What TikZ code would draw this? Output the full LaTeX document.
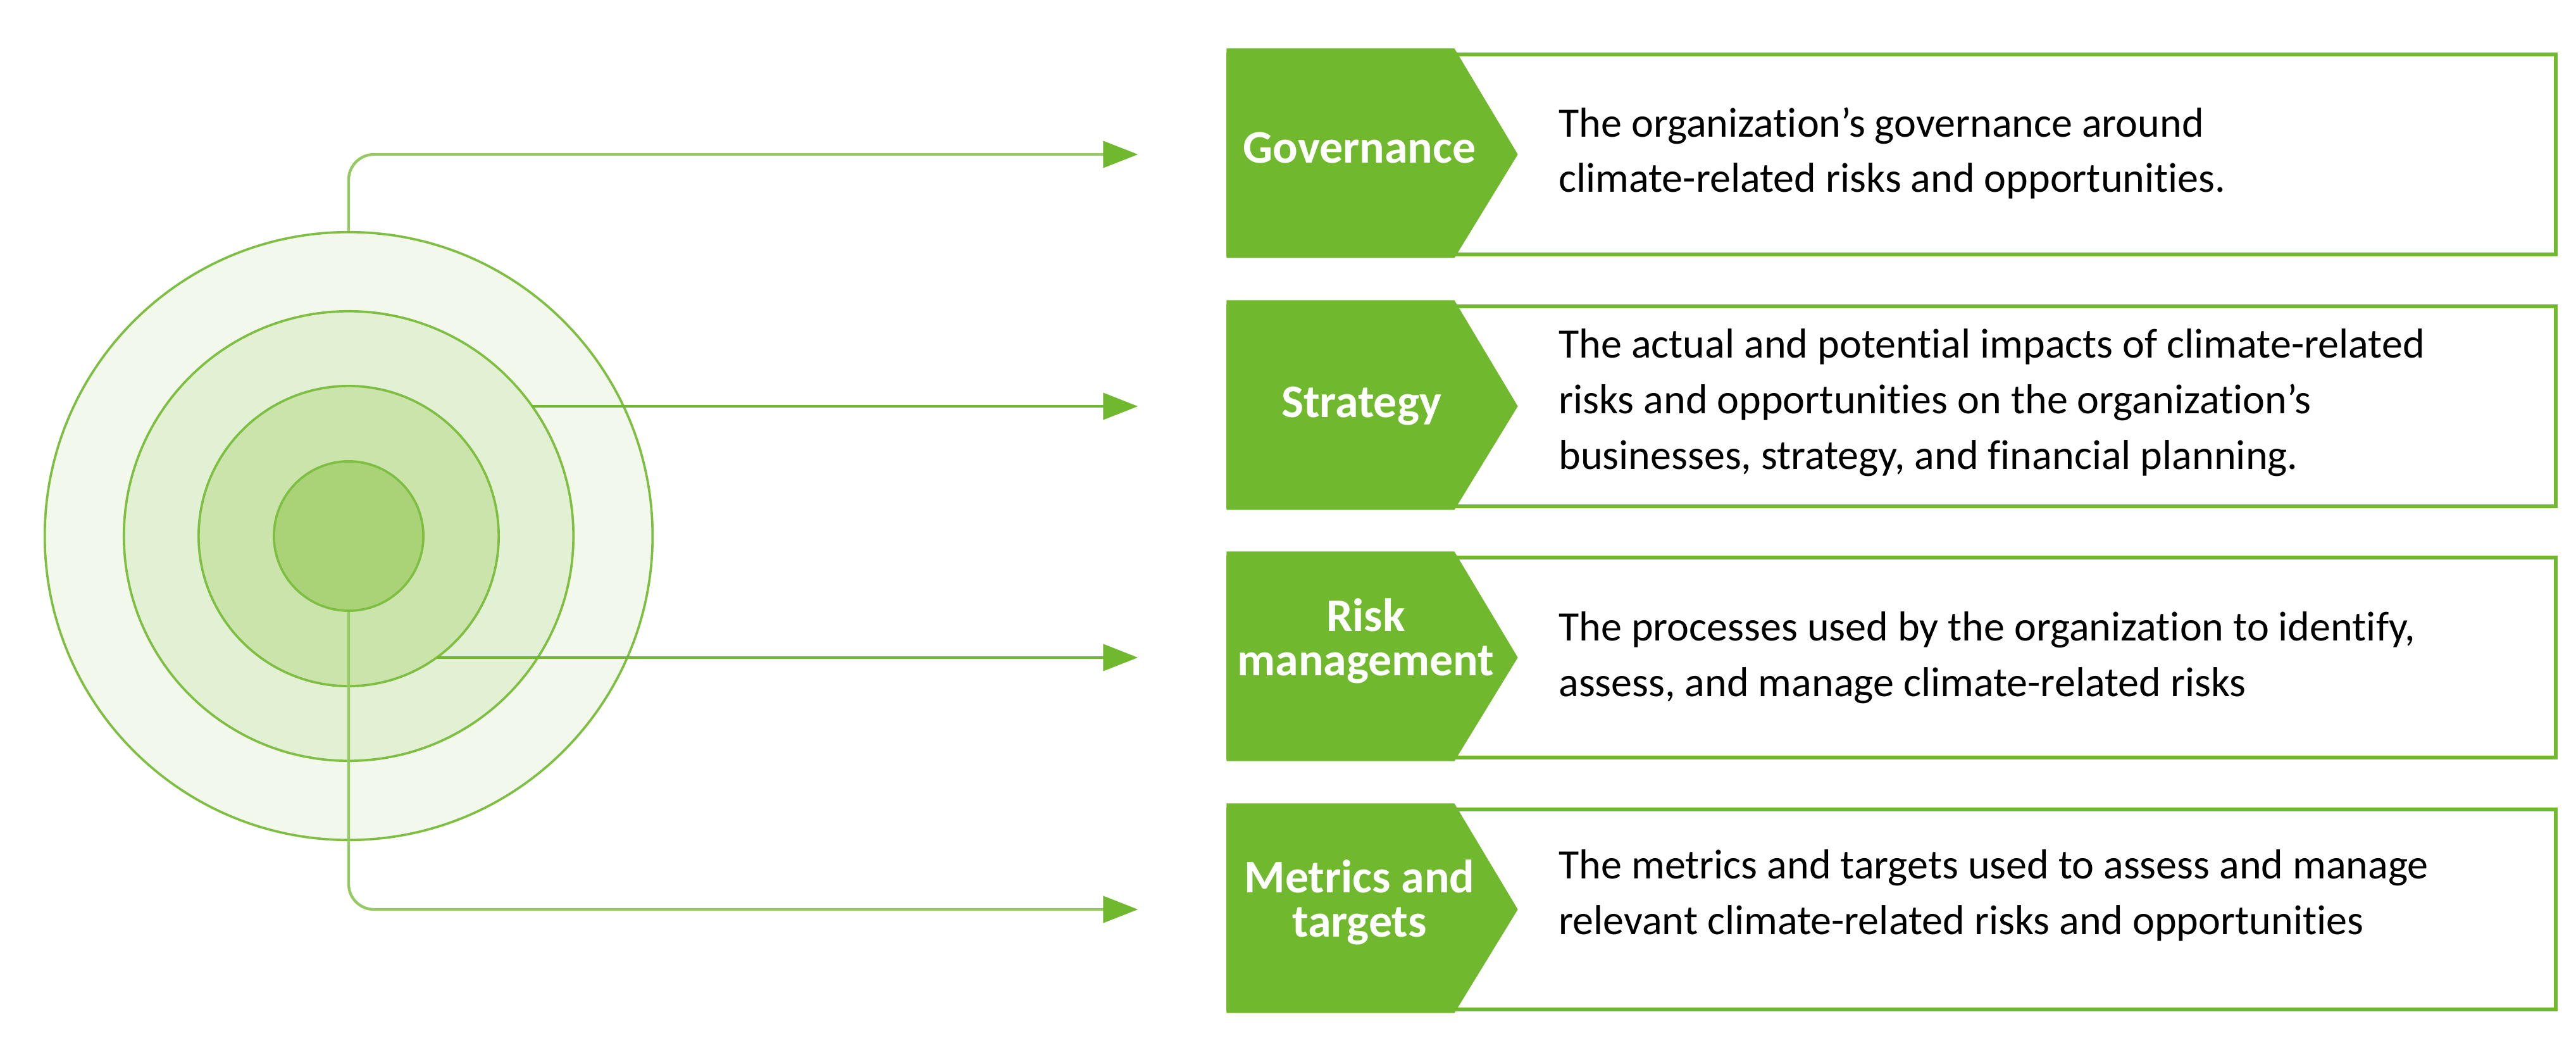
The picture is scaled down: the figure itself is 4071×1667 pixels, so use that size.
\documentclass[tikz,border=0pt]{standalone}
\usepackage{fontspec}
\setmainfont{Carlito}[Ligatures=NoCommon]
\usetikzlibrary{arrows.meta,positioning}

\definecolor{leafgreen}{RGB}{112,184,45}
\definecolor{ringa}{RGB}{242,248,236}
\definecolor{ringb}{RGB}{226,240,212}
\definecolor{ringc}{RGB}{202,228,172}
\definecolor{ringd}{RGB}{170,211,120}

\tikzset{
	ring/.style={circle, draw=leafgreen!90, line width=1.05pt, inner sep=0pt},
	link/.style={draw=leafgreen, line width=1.25pt, rounded corners=0.4cm, -{Triangle[length=0.55cm,width=0.42cm,color=leafgreen]}},
	pillar/.style={draw=leafgreen, line width=1.7pt, minimum width=20.96cm, minimum height=3.15cm, inner sep=0pt},
	pillarname/.style={text=white, font=\fontsize{21}{19.9}\selectfont\bfseries, align=center, inner sep=0pt},
	pillartext/.style={anchor=west, align=left, inner sep=0pt, font=\fontsize{18.8}{25}\selectfont}
}

\begin{document}
\begin{tikzpicture}[x=0.01cm, y=-0.01cm]
		\useasboundingbox (0,0) rectangle (4071,1667);
		
		% target
		\node[ring, fill=ringa, minimum size=9.6cm] (outer) at (551,847) {};
		\node[ring, fill=ringb, minimum size=7.1cm] (middle) at (551,847) {};
		\node[ring, fill=ringc, minimum size=4.74cm] (inner) at (551,847) {};
		\node[ring, fill=ringd, minimum size=2.36cm] (core) at (551,847) {};
		
		% boxes
		\node[pillar] (gov) at (2990,244) {};
		\node[pillar] (strat) at (2990,642) {};
		\node[pillar] (risk) at (2990,1039) {};
		\node[pillar] (metr) at (2990,1437) {};
		
		\foreach \b in {gov,strat,risk,metr}
			\fill[leafgreen] ([yshift=0.07cm]\b.north west) -- ++(360,0) -- ([xshift=4.6cm]\b.west)
				-- ([xshift=3.6cm,yshift=-0.03cm]\b.south west) -- ([yshift=-0.03cm]\b.south west) -- cycle;
		
		\node[pillarname] (govname) at ([xshift=2.1cm, yshift=0.1cm]gov.west) {Governance};
		\node[pillarname] (stratname) at ([xshift=2.13cm]strat.west) {Strategy};
		\node[pillarname] (riskname) at ([xshift=2.2cm, yshift=0.26cm]risk.west) {Risk\\management};
		\node[pillarname] (metrname) at ([xshift=2.1cm, yshift=0.11cm]metr.west) {Metrics and\\targets};
		
		\node[pillartext] (govtext) at ([xshift=5.24cm, yshift=0.02cm]gov.west) {The organization’s governance around\\climate-related risks and opportunities.};
		\node[pillartext] (strattext) at ([xshift=5.24cm, yshift=0.06cm]strat.west) {The actual and potential impacts of climate-related\\risks and opportunities on the organization’s\\businesses, strategy, and financial planning.};
		\node[pillartext] (risktext) at ([xshift=5.24cm]risk.west) {The processes used by the organization to identify,\\assess, and manage climate-related risks};
		\node[pillartext] (metrtext) at ([xshift=5.24cm, yshift=0.22cm]metr.west) {The metrics and targets used to assess and manage\\relevant climate-related risks and opportunities};
		
		% arrows
		\coordinate (govend) at ([xshift=-1.4cm]gov.west);
		\coordinate (stratend) at ([xshift=-1.4cm]strat.west);
		\coordinate (riskend) at ([xshift=-1.4cm]risk.west);
		\coordinate (metrend) at ([xshift=-1.4cm]metr.west);
		
		\draw[link, draw=leafgreen!75] (outer.north) |- (govend);
		\draw[link] (stratend -| middle.36) -- (stratend);
		\draw[link] (riskend -| inner.-54) -- (riskend);
		\draw[link, draw=leafgreen!75] (core.south) |- (metrend);
	\end{tikzpicture}
\end{document}
